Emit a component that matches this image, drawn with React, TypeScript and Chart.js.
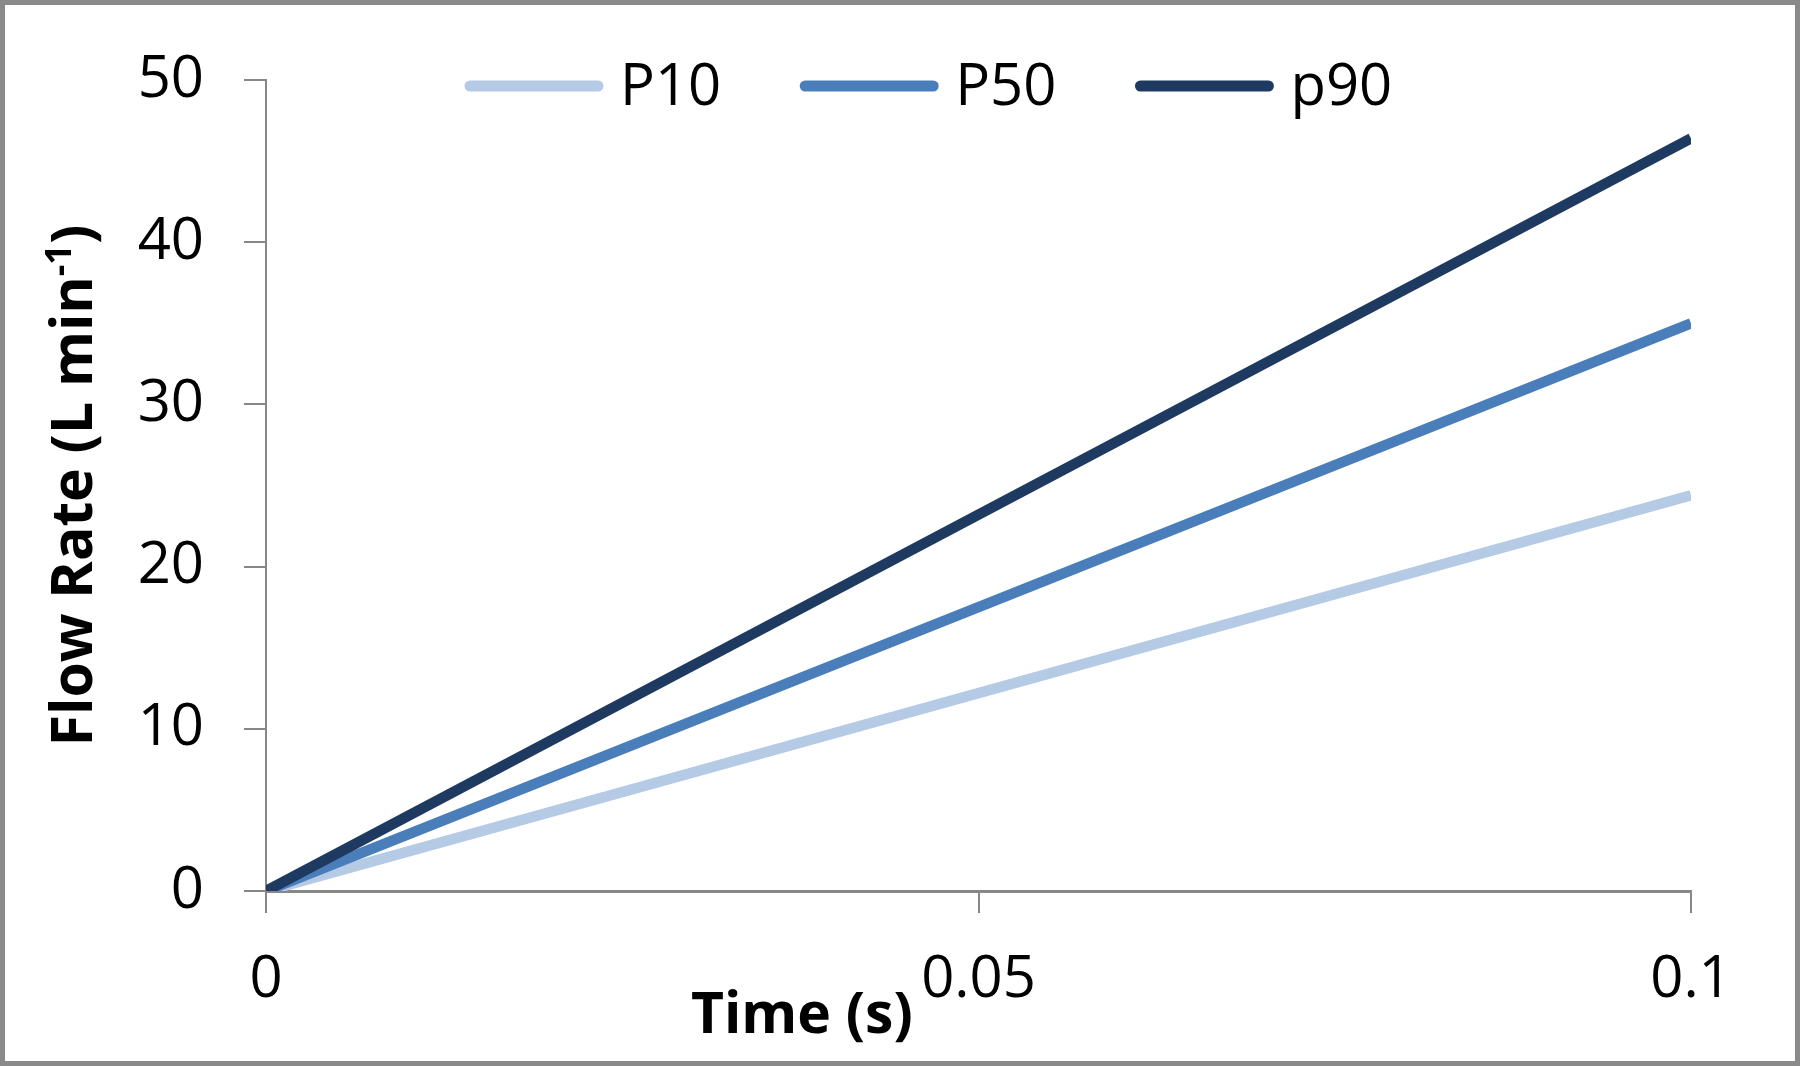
import { useEffect, useRef } from "react";
import { Chart, registerables } from "chart.js";

Chart.register(...registerables);

// Flow rate versus time for the three percentile cases
const timeS = [0, 0.05, 0.1];
const p10Flow = [0, 12.2, 24.4];
const p50Flow = [0, 17.5, 35.0];
const p90Flow = [0, 23.2, 46.4];

const seriesNames = ["P10", "P50", "p90"];
const seriesColors = ["#b4cae5", "#4a7ebb", "#1f3a60"];

const xTickValues = [0, 0.05, 0.1];
const yTickValues = [0, 10, 20, 30, 40, 50];

const xTitle = "Time (s)";
const yTitleMain = "Flow Rate (L min";
const yTitleSup = "-1";
const yTitleEnd = ")";

const FONT = "'Open Sans', 'Liberation Sans', sans-serif";
const AXIS_GREY = "#878787";

const W = 1800;
const H = 1066;

// White page with a grey frame around the whole figure
const framePlugin = {
  id: "frame",
  beforeDraw(chart: any) {
    const { ctx } = chart;
    ctx.save();
    ctx.fillStyle = "#ffffff";
    ctx.fillRect(0, 0, chart.width, chart.height);
    ctx.restore();
  },
  afterDraw(chart: any) {
    const { ctx } = chart;
    ctx.save();
    ctx.strokeStyle = "#8a8a8a";
    ctx.lineWidth = 5;
    ctx.strokeRect(2.5, 2.5, chart.width - 5, chart.height - 5);
    ctx.restore();
  },
};

// Axis titles: the y title carries a superscript exponent
const axisTitlePlugin = {
  id: "axisTitles",
  afterDraw(chart: any) {
    const { ctx, chartArea } = chart;
    ctx.save();
    ctx.fillStyle = "#000000";
    ctx.textBaseline = "alphabetic";

    // x title
    ctx.font = `bold 57px ${FONT}`;
    ctx.textAlign = "center";
    const xCenter = chartArea.left + (chartArea.right - chartArea.left) * 0.376;
    ctx.fillText(xTitle, xCenter, chartArea.bottom + 142);

    // y title, rotated
    const mainFont = `bold 57px ${FONT}`;
    const supFont = `bold 36px ${FONT}`;
    ctx.font = mainFont;
    const wMain = ctx.measureText(yTitleMain).width;
    const wEnd = ctx.measureText(yTitleEnd).width;
    ctx.font = supFont;
    const wSup = ctx.measureText(yTitleSup).width;
    const total = wMain + wSup + wEnd;
    const cy = (chartArea.top + chartArea.bottom) / 2;
    ctx.translate(92, cy);
    ctx.rotate(-Math.PI / 2);
    ctx.textAlign = "left";
    let x = -total / 2;
    ctx.font = mainFont;
    ctx.fillText(yTitleMain, x, 0);
    x += wMain;
    ctx.font = supFont;
    ctx.fillText(yTitleSup, x, -21);
    x += wSup;
    ctx.font = mainFont;
    ctx.fillText(yTitleEnd, x, 0);
    ctx.restore();
  },
};

// Legend across the top: thick line sample followed by the series name
const legendPlugin = {
  id: "lineLegend",
  afterDraw(chart: any) {
    const { ctx } = chart;
    const lineLen = 138;
    const textGap = 17;
    const itemGap = 79;
    const cy = 86;
    ctx.save();
    ctx.font = `58px ${FONT}`;
    ctx.textBaseline = "middle";
    ctx.textAlign = "left";
    let x = 465;
    chart.data.datasets.forEach((ds: any) => {
      ctx.strokeStyle = ds.borderColor;
      ctx.lineWidth = 11;
      ctx.lineCap = "round";
      ctx.beginPath();
      ctx.moveTo(x + 5, cy);
      ctx.lineTo(x + lineLen - 5, cy);
      ctx.stroke();
      x += lineLen + textGap;
      ctx.fillStyle = "#000000";
      ctx.fillText(ds.label, x, cy + 2);
      x += ctx.measureText(ds.label).width + itemGap;
    });
    ctx.restore();
  },
};

function toPoints(ys: number[]) {
  return ys.map((y, i) => ({ x: timeS[i], y }));
}

export default function App() {
  const canvasRef = useRef<HTMLCanvasElement | null>(null);

  useEffect(() => {
    document.body.style.margin = "0";
    const canvas = canvasRef.current;
    if (!canvas) return;
    const seriesValues = [p10Flow, p50Flow, p90Flow];
    const chart = new Chart(canvas, {
      type: "line",
      data: {
        datasets: seriesValues.map((vals, i) => ({
          label: seriesNames[i],
          data: toPoints(vals),
          borderColor: seriesColors[i],
          backgroundColor: seriesColors[i],
          borderWidth: 10.5,
          borderCapStyle: "butt" as const,
          pointRadius: 0,
          tension: 0,
          fill: false,
          order: 2 - i,
        })),
      },
      options: {
        responsive: false,
        animation: false,
        layout: { padding: { left: 0, top: 80, right: 109, bottom: 0 } },
        plugins: {
          legend: { display: false },
          tooltip: { enabled: false },
          title: { display: false },
        },
        scales: {
          x: {
            type: "linear",
            min: 0,
            max: 0.1,
            afterBuildTicks: (scale: any) => {
              scale.ticks = xTickValues.map((v) => ({ value: v }));
            },
            afterFit: (scale: any) => {
              scale.height = 175;
            },
            grid: {
              drawOnChartArea: false,
              drawTicks: true,
              tickLength: 22,
              color: AXIS_GREY,
              lineWidth: 2,
            },
            border: { display: true, color: AXIS_GREY, width: 3 },
            ticks: {
              color: "#000000",
              font: { family: FONT, size: 58 },
              padding: 33,
              maxRotation: 0,
              autoSkip: false,
              callback: (v: any) => Number(Number(v).toFixed(2)).toString(),
            },
          },
          y: {
            type: "linear",
            min: 0,
            max: 50,
            afterBuildTicks: (scale: any) => {
              scale.ticks = yTickValues.map((v) => ({ value: v }));
            },
            afterFit: (scale: any) => {
              scale.width = 266;
            },
            grid: {
              drawOnChartArea: false,
              drawTicks: true,
              tickLength: 22,
              color: AXIS_GREY,
              lineWidth: 2,
            },
            border: { display: true, color: AXIS_GREY, width: 2 },
            ticks: {
              color: "#000000",
              font: { family: FONT, size: 58 },
              padding: 40,
              autoSkip: false,
            },
          },
        },
      },
      plugins: [framePlugin, axisTitlePlugin, legendPlugin],
    });
    return () => chart.destroy();
  }, []);

  return (
    <div style={{ width: W, height: H, position: "relative" }}>
      <canvas ref={canvasRef} width={W} height={H} style={{ display: "block" }} />
    </div>
  );
}
